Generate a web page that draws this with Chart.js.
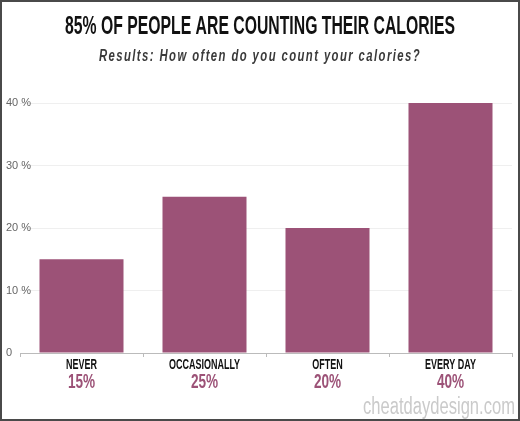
<!DOCTYPE html>
<html>
<head>
<meta charset="utf-8">
<script src="https://cdn.jsdelivr.net/npm/chart.js@4.4.1/dist/chart.umd.min.js"></script>
<style>
  html, body { margin: 0; padding: 0; background: #fff; }
  #wrap { width: 520px; height: 421px; box-sizing: border-box; border: 2px solid #4a4a4a; background: #fff; }
  #graph { display: block; }
</style>
</head>
<body>
<div id="wrap"><canvas id="graph" width="516" height="417"></canvas></div>
<script>
// data
const categories = ["NEVER", "OCCASIONALLY", "OFTEN", "EVERY DAY"];
const shares = [15, 25, 20, 40]; // percent
const titleText = "85% OF PEOPLE ARE COUNTING THEIR CALORIES";
const subtitleText = "Results: How often do you count your calories?";
const sourceText = "cheatdaydesign.com";

const barColor = "#9c5277";
const fam = "'Liberation Sans', Arial, sans-serif";

// draw text squeezed horizontally (condensed look), fixed width or squeeze factor
function squeezeText(ctx, text, x, y, font, color, opts) {
  ctx.save();
  ctx.font = font;
  ctx.fillStyle = color;
  ctx.textBaseline = "middle";
  ctx.textAlign = "left";
  if (opts.spacing) ctx.letterSpacing = opts.spacing;
  const w = ctx.measureText(text).width;
  const s = opts.width ? opts.width / w : opts.factor;
  const drawn = w * s;
  ctx.translate(opts.align === "right" ? x - drawn : x - drawn / 2, y);
  ctx.scale(s, 1);
  ctx.fillText(text, 0, 0);
  ctx.restore();
}

const labelsPlugin = {
  id: "labelsPlugin",
  afterDraw(chart) {
    const ctx = chart.ctx;
    const cx = chart.width / 2;
    squeezeText(ctx, titleText, cx, 25, "bold 25px " + fam, "#111", { width: 390 });
    squeezeText(ctx, subtitleText, cx, 55, "italic bold 16px " + fam, "#3a3a3a", { width: 322, spacing: "2px" });
    squeezeText(ctx, sourceText, chart.width - 3, 406, "23px " + fam, "#cacaca", { width: 152, align: "right" });

    const xs = chart.scales.x;
    categories.forEach((name, i) => {
      const px = xs.getPixelForValue(i);
      squeezeText(ctx, name, px, 362.5, "bold 15px " + fam, "#111", { factor: 0.6 });
      squeezeText(ctx, shares[i] + "%", px, 380.5, "bold 20px " + fam, barColor, { factor: 0.68 });
    });
  },
};

let config = {
  type: "bar",
  data: {
    labels: categories,
    datasets: [
      {
        label: "Share",
        data: shares,
        backgroundColor: barColor,
        borderWidth: 0,
        categoryPercentage: 1,
        barPercentage: 0.683,
      },
    ],
  },
  options: {
    responsive: false,
    animation: false,
    layout: { padding: { top: 101, right: 6, bottom: 26, left: 0 } },
    plugins: {
      legend: { display: false },
      tooltip: { enabled: false },
    },
    scales: {
      x: {
        position: "bottom",
        grid: { display: true, drawOnChartArea: false, tickLength: 4, color: "#bbb" },
        border: { display: true, color: "#bbb" },
        ticks: { display: false },
        afterFit(scale) { scale.height = 40; },
      },
      y: {
        min: 0,
        max: 40,
        ticks: {
          stepSize: 10,
          mirror: true,
          padding: -14,
          color: "#666",
          font: { family: fam, size: 11 },
          callback: (v) => (v === 0 ? "0" : v + " %"),
        },
        grid: { color: "#efefef", drawTicks: false },
        border: { display: false },
        afterFit(scale) { scale.width = 18; },
      },
    },
  },
  plugins: [labelsPlugin],
};

window.onload = () => {
  new Chart(document.getElementById("graph"), config);
};
</script>
</body>
</html>
